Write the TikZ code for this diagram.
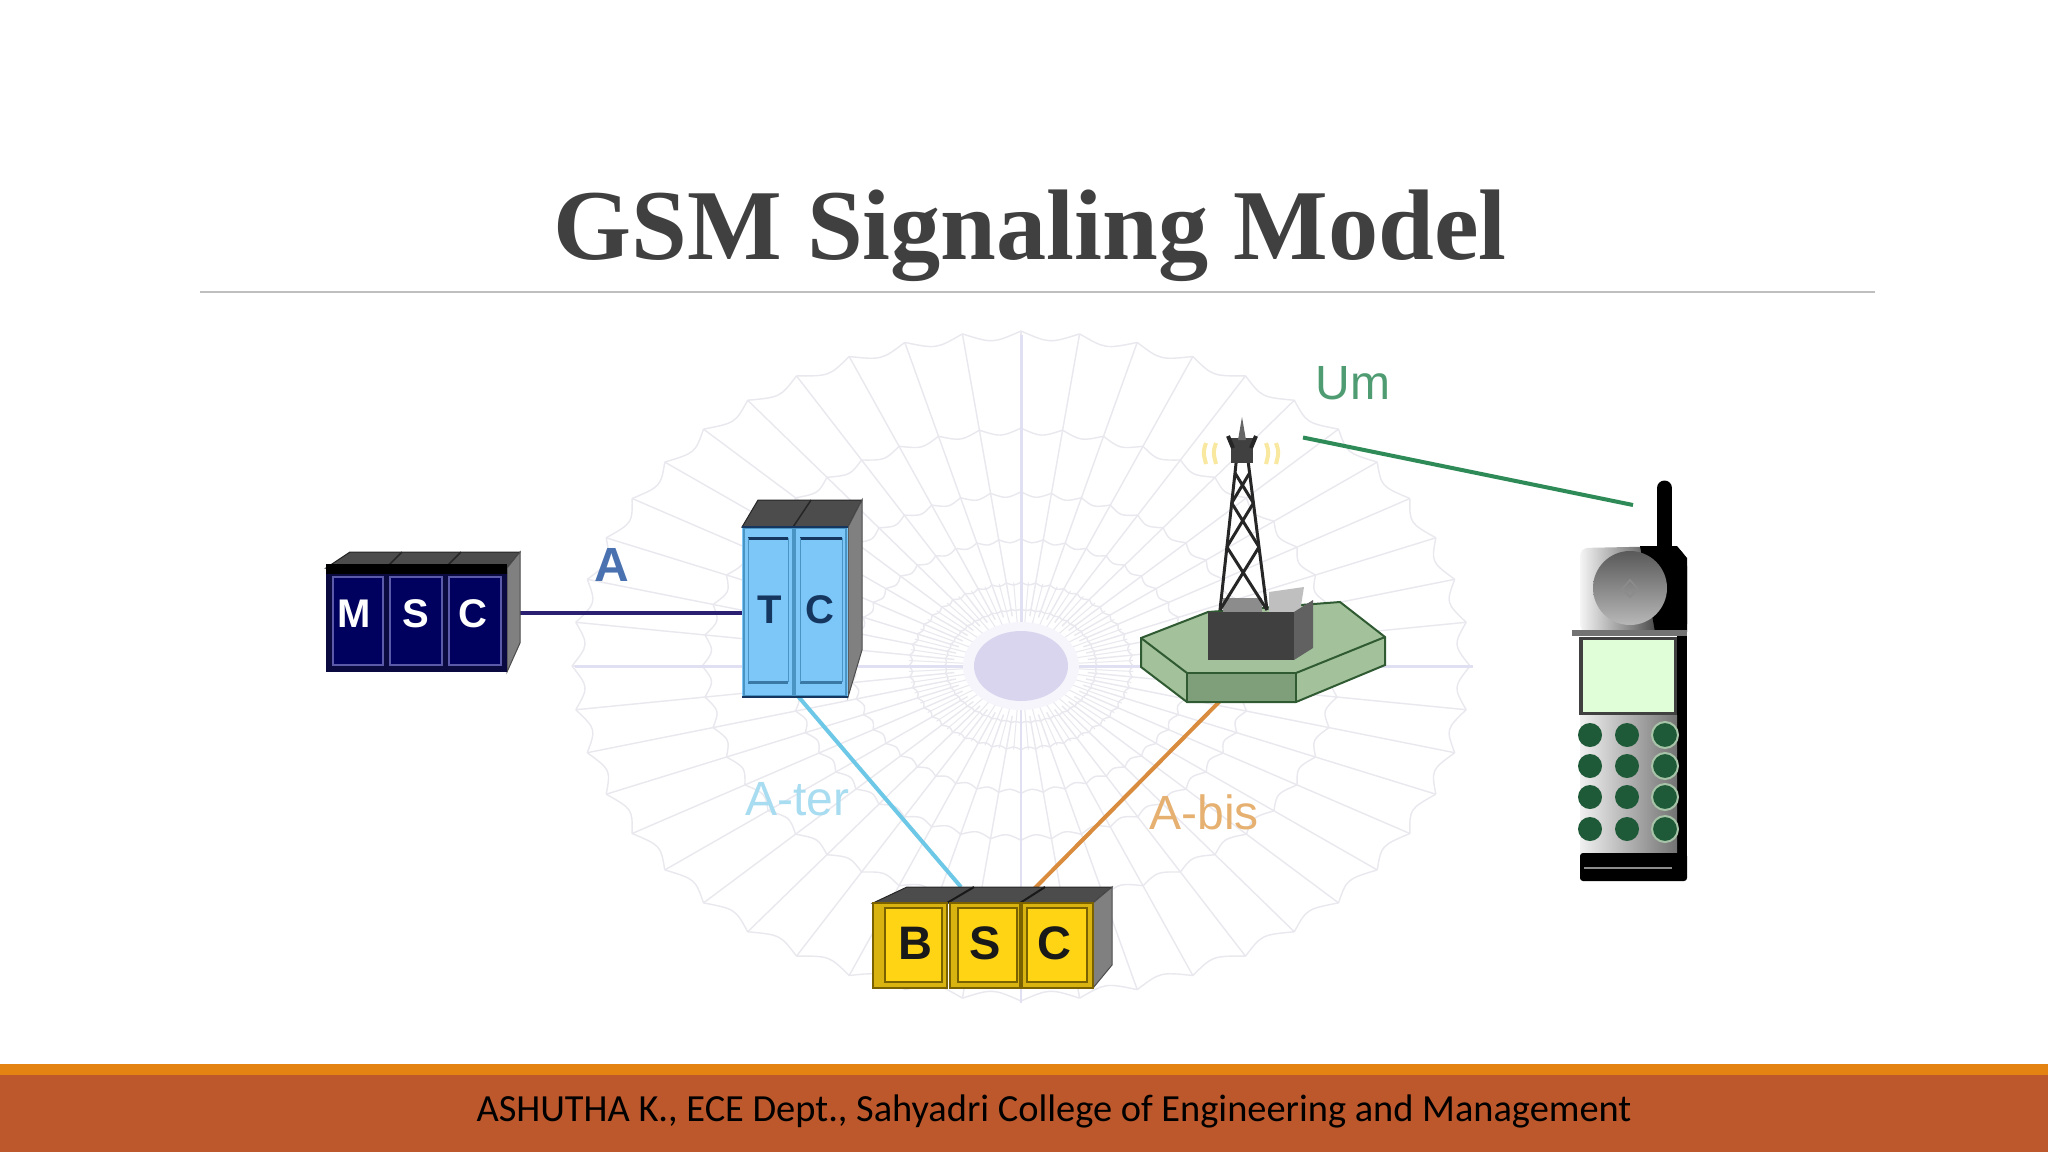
\documentclass[tikz,border=0pt]{standalone}
\usepackage{fontspec}
\setmainfont{Liberation Sans}
\newfontfamily\titlefont{Liberation Serif}
\newfontfamily\footfont{Carlito}
\usetikzlibrary{calc}
\definecolor{titlegray}{HTML}{404040}
\definecolor{rulegray}{HTML}{BFBFBF}
\definecolor{barorange}{HTML}{E48312}
\definecolor{barbrown}{HTML}{BD582C}
\definecolor{webc}{HTML}{E8E8EE}
\definecolor{webthick}{HTML}{E0E0F2}
\definecolor{blob}{HTML}{D9D5EE}
\definecolor{navy}{HTML}{00005F}
\definecolor{navyframe}{HTML}{0A0A40}
\definecolor{navyline}{HTML}{5A5AA8}
\definecolor{linkA}{HTML}{2A1F70}
\definecolor{labA}{HTML}{4A72B0}
\definecolor{tcblue}{HTML}{7CC6F8}
\definecolor{tcedge}{HTML}{4A94C4}
\definecolor{tcdark}{HTML}{14365F}
\definecolor{linkT}{HTML}{6CC8E6}
\definecolor{labT}{HTML}{A8DCF0}
\definecolor{linkB}{HTML}{D98C3E}
\definecolor{labB}{HTML}{E6B070}
\definecolor{linkU}{HTML}{2E8B57}
\definecolor{labU}{HTML}{4F9C72}
\definecolor{yel}{HTML}{FFD414}
\definecolor{yeledge}{HTML}{7A6200}
\definecolor{platform}{HTML}{A3C29C}
\definecolor{platdark}{HTML}{7F9F7A}
\definecolor{platedge}{HTML}{2F5A32}
\definecolor{screenc}{HTML}{E0FFD8}
\definecolor{keyc}{HTML}{1E5A38}
\definecolor{ringc}{HTML}{A8C4A8}
\definecolor{wavec}{HTML}{F8E8A0}
\tikzset{
  webline/.style={draw=webc,line width=1.4pt},
  webbold/.style={draw=webthick,line width=3pt},
  topface/.style={fill=black!70,draw=black!85,line width=1pt},
  sideface/.style={fill=black!50,draw=black!70,line width=1pt},
  mscpanel/.style={fill=navy,draw=navyline,line width=1.6pt},
  tcpanel/.style={draw=tcedge,line width=2.5pt},
  bscpanel/.style={fill=yel,draw=yeledge,line width=2pt},
  mscletter/.style={font=\fontsize{40}{40}\selectfont\bfseries,text=white,inner sep=0pt},
  tcletter/.style={font=\fontsize{40}{40}\selectfont\bfseries,text=tcdark,inner sep=0pt},
  bscletter/.style={font=\fontsize{47}{47}\selectfont\bfseries,text=black!90,inner sep=0pt},
  linklabel/.style={font=\fontsize{48}{48}\selectfont,inner sep=0pt},
  link/.style={line width=4pt},
  lattice/.style={draw=black!85,line width=3pt},
  keybtn/.style={fill=keyc,draw=none},
  keyring/.style={fill=keyc,draw=ringc,line width=2pt},
  wave/.style={draw=wavec,line width=4pt},
}
\begin{document}
\begin{tikzpicture}[x=1pt,y=-1pt]
\useasboundingbox (0,0) rectangle (2048,1152);
\fill[white] (0,0) rectangle (2048,1152);

% title and rule
\node[inner sep=0pt,anchor=base,text=titlegray,font=\titlefont\fontsize{100.3}{100}\selectfont\bfseries] (title) at (1030,259) {GSM Signaling Model};
\coordinate (ruleL) at (200,292);
\coordinate (ruleR) at (1875,292);
\draw[rulegray,line width=1.5pt] (ruleL) -- (ruleR);

% spider web
\def\wcx{1021}\def\wcy{666}\def\wrx{449}\def\wry{335}
\foreach \i in {0,...,47}{
  \pgfmathsetmacro{\ca}{cos(7.5*\i)}
  \pgfmathsetmacro{\sa}{sin(7.5*\i)}
  \draw[webline] ({\wcx+\wrx*0.15*\ca},{\wcy+\wry*0.15*\sa}) -- ({\wcx+\wrx*\ca},{\wcy+\wry*\sa});
  \pgfmathsetmacro{\cb}{cos(7.5*\i+3.75)}
  \pgfmathsetmacro{\sb}{sin(7.5*\i+3.75)}
  \draw[webline,line width=1pt] ({\wcx+\wrx*0.12*\cb},{\wcy+\wry*0.12*\sb}) -- ({\wcx+\wrx*0.25*\cb},{\wcy+\wry*0.25*\sb});
  \pgfmathsetmacro{\cc}{cos(7.5*\i+7.5)}
  \pgfmathsetmacro{\sc}{sin(7.5*\i+7.5)}
  \foreach \r/\q in {1/0.965,0.71/0.685,0.52/0.50,0.38/0.365,0.25/0.24,0.17/0.165}{
    \draw[webline] ({\wcx+\wrx*\r*\ca},{\wcy+\wry*\r*\sa}) .. controls ({\wcx+\wrx*\q*\cb},{\wcy+\wry*\q*\sb}) .. ({\wcx+\wrx*\r*\cc},{\wcy+\wry*\r*\sc});
  }
}
\coordinate (webC) at (\wcx,\wcy);
\coordinate (webN) at (\wcx,335);
\coordinate (webW) at (575,\wcy);
\coordinate (webE) at (1473,\wcy);
\coordinate (webS) at (\wcx,1003);
\draw[webbold] (webC) -- (webN);
\draw[webbold] (webC) -- (webW);
\draw[webbold] (webC) -- (webE);
\draw[webbold,line width=2pt] (webC) -- (webS);
\fill[blob!25] (webC) ellipse [x radius=58,y radius=44];
\fill[blob] (webC) ellipse [x radius=47,y radius=35];

% links
\coordinate (mscE) at (520,613);
\coordinate (tcW) at (744,613);
\coordinate (tcS) at (797,695);
\coordinate (bscT) at (961,887);
\coordinate (bscU) at (1034,889);
\coordinate (btsS) at (1222,699);
\coordinate (btsU) at (1303,437.5);
\coordinate (msU) at (1633,505);
\draw[link,linkA] (mscE) -- (tcW);
\draw[link,linkT] (tcS) -- (bscT);
\draw[link,linkB] (btsS) -- (bscU);
\draw[link,linkU] (btsU) -- (msU);

% link labels
\node[linklabel,font=\fontsize{48}{48}\selectfont\bfseries,text=labA] (labelA) at (612,565) {A};
\node[linklabel,text=labT] (labelAter) at (797,799) {A-ter};
\node[linklabel,text=labB] (labelAbis) at (1204,812) {A-bis};
\node[linklabel,text=labU] (labelUm) at (1353,383) {Um};

% MSC
\fill[topface] (326,568) -- (350,552) -- (520,552) -- (507,568) -- cycle;
\draw[black!85,line width=1.5pt] (386,568) -- (402,552) (445,568) -- (461,552);
\fill[sideface] (507,568) -- (520,552) -- (520,643) -- (507,672) -- cycle;
\fill[navyframe] (326,566) rectangle (507,672);
\fill[black] (326,564) rectangle (507,574);
\draw[mscpanel] (333,577) rectangle (383,665);
\draw[mscpanel] (390,577) rectangle (442,665);
\draw[mscpanel] (449,577) rectangle (501,665);
\node[mscletter] (mscM) at (354,614) {M};
\node[mscletter] (mscS) at (416,614) {S};
\node[mscletter] (mscC) at (473,614) {C};

% TC
\fill[topface] (742,527) -- (758,500) -- (862,500) -- (848,527) -- cycle;
\draw[black!85,line width=1.5pt] (793,527) -- (811,500);
\fill[sideface] (848,527) -- (862,500) -- (862,650) -- (848,697) -- cycle;
\fill[tcblue] (742,527) rectangle (848,697);
\draw[tcpanel] (744,528) rectangle (793,696);
\draw[tcpanel] (795,528) rectangle (846,696);
\draw[tcdark,line width=1.5pt] (742,697) -- (848,697);
\draw[tcdark,line width=1.5pt] (742,527) -- (848,527);
\draw[tcdark,line width=3pt] (748,538) -- (788,538);
\draw[tcdark,line width=3pt] (800,538) -- (842,538);
\draw[tcedge!70!tcdark,line width=3pt] (748,682) -- (788,682);
\draw[tcedge!70!tcdark,line width=3pt] (800,682) -- (842,682);
\draw[tcedge,line width=1pt] (788,538) -- (788,682);
\draw[tcedge,line width=1pt] (800,538) -- (800,682);
\draw[tcedge,line width=1pt] (842,538) -- (842,682);
\draw[tcedge,line width=1pt] (748,538) -- (748,682);
\node[tcletter] (tcT) at (770,610) {T};
\node[tcletter] (tcC) at (820,610) {C};

% BSC
\fill[topface] (873,903) -- (907,887) -- (1112,887) -- (1093,903) -- cycle;
\draw[black!90,line width=2pt] (947,903) -- (974,887);
\draw[black!90,line width=2pt] (1020,903) -- (1045,887);
\fill[sideface] (1093,903) -- (1112,887) -- (1112,965) -- (1093,988) -- cycle;
\foreach \xa/\xb in {873/947,950/1020,1022/1093}{
  \draw[bscpanel,fill=yel!85!black] (\xa,903) rectangle (\xb,988);
}
\draw[bscpanel] (885,908) rectangle (942,982);
\draw[bscpanel] (958,908) rectangle (1017,982);
\draw[bscpanel] (1027,908) rectangle (1087,982);
\node[bscletter] (bscB) at (915,943) {B};
\node[bscletter] (bscS) at (985,943) {S};
\node[bscletter] (bscC) at (1054,943) {C};

% base station platform
\fill[platform,draw=platedge,line width=2pt] (1141,638) -- (1208,612) -- (1340,602) -- (1385,637) -- (1385,665) -- (1296,702) -- (1187,702) -- (1141,667) -- cycle;
\fill[platdark,draw=platedge,line width=2pt] (1187,673) rectangle (1296,702);
\draw[platedge,line width=2pt] (1141,638) -- (1187,673);
\draw[platedge,line width=2pt] (1296,673) -- (1385,637);
% hut
\fill[black!25] (1269,592) -- (1304,587) -- (1300,612) -- (1269,612) -- cycle;
\fill[black!45] (1223,598) rectangle (1262,612);
\fill[black!62] (1294,612) -- (1313,600) -- (1313,648) -- (1294,660) -- cycle;
\fill[black!75] (1208,612) rectangle (1294,660);

% tower
\draw[lattice] (1220,610) -- (1235,473) -- (1238,445);
\draw[lattice] (1267,610) -- (1249.6,473) -- (1246,445);
\draw[lattice] (1220,610) -- (1259,547) (1267,610) -- (1226.9,547);
\draw[lattice] (1226.9,547) -- (1253.4,503) (1259,547) -- (1231.7,503);
\draw[lattice] (1231.7,503) -- (1249.6,473) (1253.4,503) -- (1235,473);
\fill[black!75] (1231,438) rectangle (1253,463);
\fill[black!60] (1238,440) -- (1242,417) -- (1246,440) -- cycle;
\draw[black!85,line width=4pt] (1228,436) -- (1233,448) (1256,436) -- (1251,448);
% radio waves
\draw[wave] (1206,443) .. controls (1203,452) .. (1206,464);
\draw[wave] (1216,443) .. controls (1213,452) .. (1216,464);
\draw[wave] (1266,443) .. controls (1269,452) .. (1266,464);
\draw[wave] (1276,443) .. controls (1279,452) .. (1276,464);

% mobile phone
\draw[black,line width=15pt,line cap=round] (1664.5,488) -- (1664.5,545);
\shade[left color=black!4,right color=black,middle color=black!50,rounded corners=8pt] (1580,632) -- (1580,548) -- (1677,546) -- (1687,558) -- (1687,632) -- cycle;
\fill[black] (1640,546) -- (1677,546) -- (1687,558) -- (1687,632) -- (1655,632) -- cycle;
\shade[top color=black!65,bottom color=black!28] (1630,588) circle [radius=37];
\draw[black!45,line width=1.5pt] (1630,580) -- (1638,589) -- (1630,597) -- (1622,589) -- cycle;
\fill[black] (1677,632) rectangle (1687,878);
\shade[left color=black!6,right color=black!55] (1580,715) rectangle (1677,855);
\fill[black!55] (1572,630) rectangle (1687,636);
\fill[black!75] (1579,637) rectangle (1677,715);
\fill[screenc] (1583,640) rectangle (1674,712);
\foreach \yy in {735,766,797,829}{
  \fill[keybtn] (1590,\yy) circle [radius=12];
  \fill[keybtn] (1627,\yy) circle [radius=12];
  \draw[keyring] (1665,\yy) circle [radius=13];
}
\fill[black,rounded corners=3pt] (1580,853) rectangle (1687,881);
\draw[black!45,line width=1.5pt] (1584,868) -- (1672,868);

% footer
\fill[barbrown] (0,1075) rectangle (2048,1152);
\fill[barorange] (0,1064) rectangle (2048,1075);
\node[inner sep=0pt,text=black,font=\footfont\fontsize{38.4}{38}\selectfont] (footer) at (1054,1111) {ASHUTHA K., ECE Dept., Sahyadri College of Engineering and Management};
\end{tikzpicture}
\end{document}
